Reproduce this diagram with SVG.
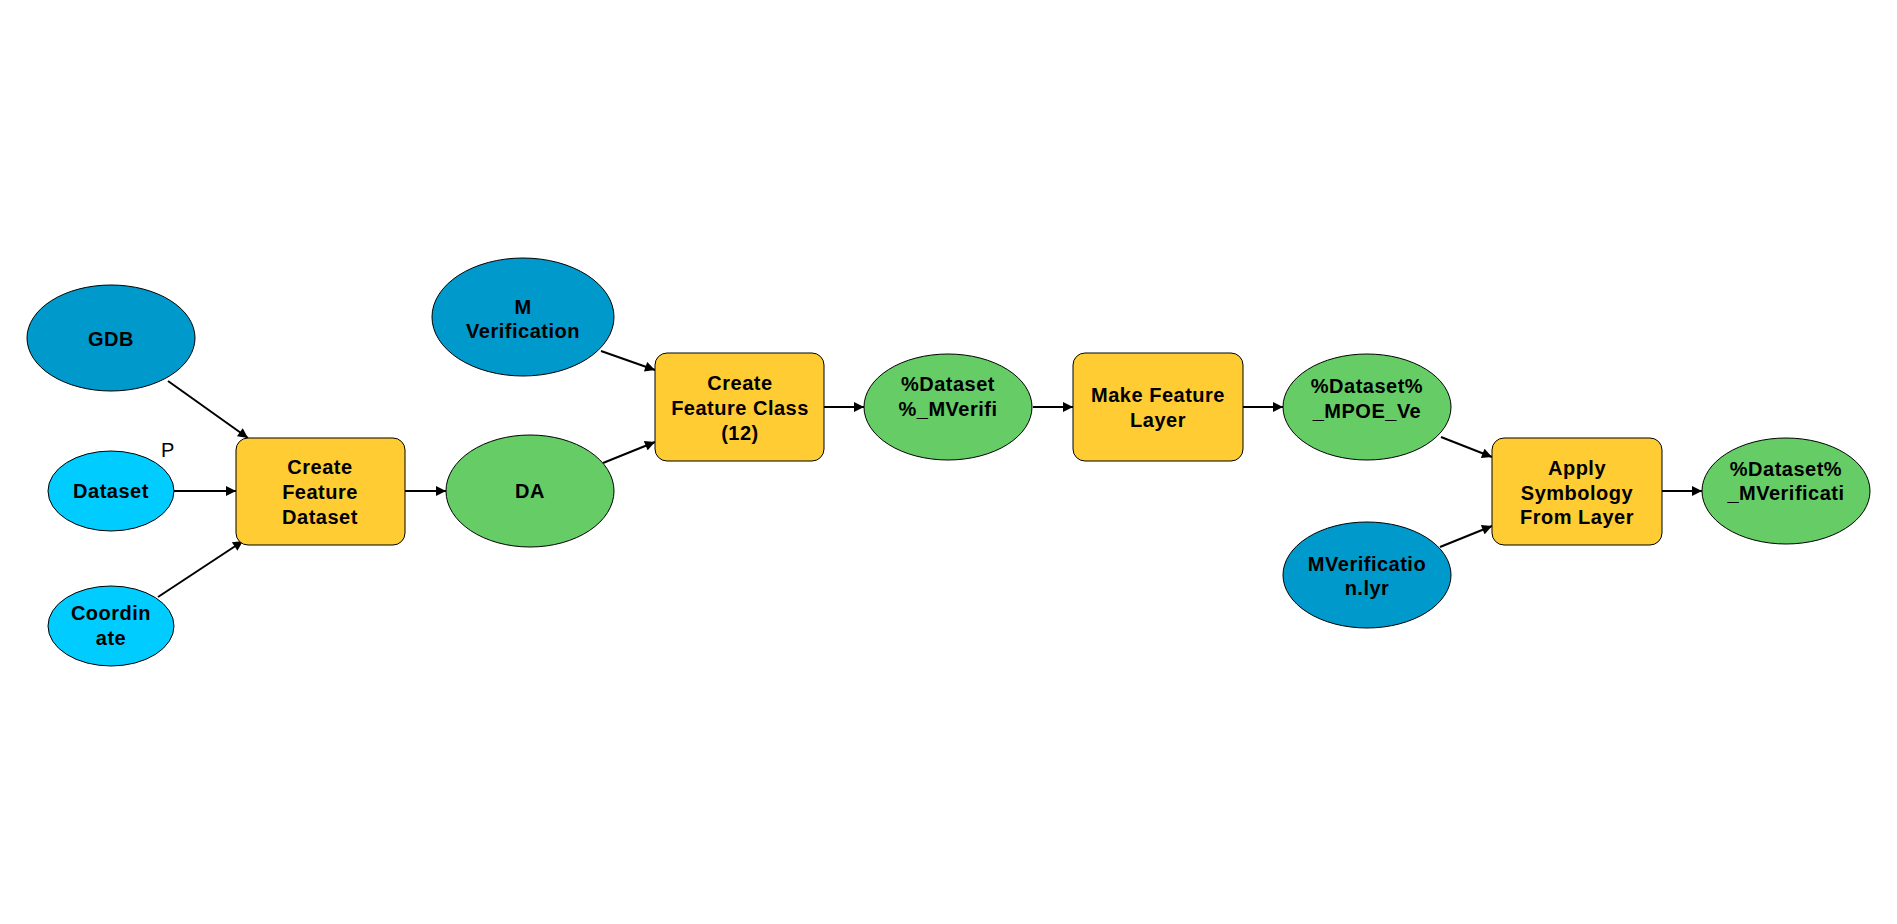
<svg xmlns="http://www.w3.org/2000/svg" width="1897" height="924" viewBox="0 0 1897 924">
<style>
text{font-family:"Liberation Sans",Arial,sans-serif;font-weight:bold;font-size:20px;letter-spacing:0.5px;fill:#000;text-anchor:middle;dominant-baseline:central}
.p{font-weight:normal}
.dk{fill:#0099CC;stroke:#000;stroke-width:1}
.lt{fill:#00CCFF;stroke:#000;stroke-width:1}
.gr{fill:#66CC66;stroke:#000;stroke-width:1}
.tool{fill:#FFCC33;stroke:#000;stroke-width:1}
.c{stroke:#000;stroke-width:2;fill:none;marker-end:url(#ah)}
</style>
<defs>
<marker id="ah" viewBox="0 0 10 10" refX="10" refY="5" markerWidth="6" markerHeight="5" markerUnits="strokeWidth" orient="auto">
<path d="M0,0 L10,5 L0,10 z" fill="#000"/>
</marker>
</defs>
<rect width="1897" height="924" fill="#fff"/>
<g id="connectors">
<line class="c" x1="168" y1="381" x2="248" y2="438"/>
<line class="c" x1="174" y1="491" x2="236" y2="491"/>
<line class="c" x1="158" y1="597" x2="243" y2="541"/>
<line class="c" x1="405" y1="491" x2="446" y2="491"/>
<line class="c" x1="601" y1="351" x2="655" y2="370"/>
<line class="c" x1="603" y1="463" x2="655" y2="442"/>
<line class="c" x1="824" y1="407" x2="864" y2="407"/>
<line class="c" x1="1033" y1="407" x2="1073" y2="407"/>
<line class="c" x1="1243" y1="407" x2="1283" y2="407"/>
<line class="c" x1="1441" y1="437" x2="1492" y2="457"/>
<line class="c" x1="1440" y1="547" x2="1492" y2="526"/>
<line class="c" x1="1662" y1="491" x2="1702" y2="491"/>
</g>
<g id="gdb"><ellipse class="dk" cx="111" cy="338" rx="84" ry="53"/><text x="111" y="339">GDB</text></g>
<g id="dataset"><ellipse class="lt" cx="111" cy="491" rx="63" ry="40"/><text x="111" y="491">Dataset</text><text class="p" x="168" y="450">P</text></g>
<g id="coordinate"><ellipse class="lt" cx="111" cy="626" rx="63" ry="40"/><text x="111" y="613">Coordin</text><text x="111" y="638">ate</text></g>
<g id="create-feature-dataset"><rect class="tool" x="236" y="438" width="169" height="107" rx="12"/><text x="320" y="467">Create</text><text x="320" y="492">Feature</text><text x="320" y="517">Dataset</text></g>
<g id="da"><ellipse class="gr" cx="530" cy="491" rx="84" ry="56"/><text x="530" y="491">DA</text></g>
<g id="m-verification"><ellipse class="dk" cx="523" cy="317" rx="91" ry="59"/><text x="523" y="307">M</text><text x="523" y="331">Verification</text></g>
<g id="create-feature-class"><rect class="tool" x="655" y="353" width="169" height="108" rx="12"/><text x="740" y="383">Create</text><text x="740" y="408">Feature Class</text><text x="740" y="433">(12)</text></g>
<g id="dataset-mverifi"><ellipse class="gr" cx="948" cy="407" rx="84" ry="53"/><text x="948" y="384">%Dataset</text><text x="948" y="409">%_MVerifi</text></g>
<g id="make-feature-layer"><rect class="tool" x="1073" y="353" width="170" height="108" rx="12"/><text x="1158" y="395">Make Feature</text><text x="1158" y="420">Layer</text></g>
<g id="dataset-mpoe"><ellipse class="gr" cx="1367" cy="407" rx="84" ry="53"/><text x="1367" y="386">%Dataset%</text><text x="1367" y="411">_MPOE_Ve</text></g>
<g id="mverification-lyr"><ellipse class="dk" cx="1367" cy="575" rx="84" ry="53"/><text x="1367" y="564">MVerificatio</text><text x="1367" y="588">n.lyr</text></g>
<g id="apply-symbology"><rect class="tool" x="1492" y="438" width="170" height="107" rx="12"/><text x="1577" y="468">Apply</text><text x="1577" y="493">Symbology</text><text x="1577" y="517">From Layer</text></g>
<g id="output"><ellipse class="gr" cx="1786" cy="491" rx="84" ry="53"/><text x="1786" y="469">%Dataset%</text><text x="1786" y="493">_MVerificati</text></g>
</svg>
